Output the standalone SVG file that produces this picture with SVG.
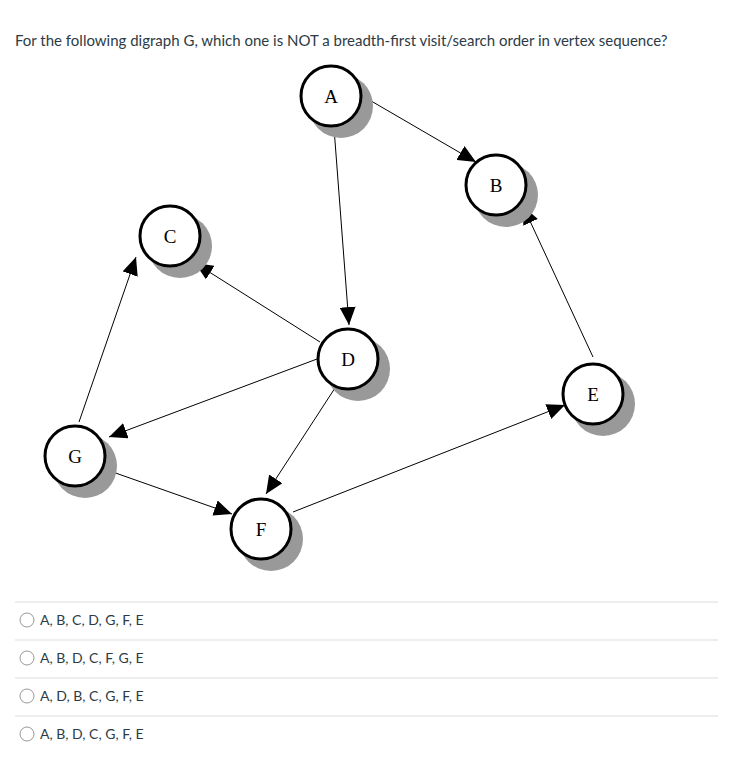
<svg xmlns="http://www.w3.org/2000/svg" width="730" height="765" viewBox="0 0 730 765">
<style>
.sh{fill:#999}
.nd{fill:#fff;stroke:#000;stroke-width:3}
.lb{font-family:"Liberation Serif",serif;font-size:19px;text-anchor:middle}
.e{stroke:#000;stroke-width:1;fill:none;marker-end:url(#ar)}
.ui{font-family:Lato,"Liberation Sans",sans-serif;font-size:14px;fill:#2d3b45}
.sep{stroke:#ddd;stroke-width:1}
.rd{fill:#fff;stroke:#999;stroke-width:1}
</style>
<defs>
<marker id="ar" markerUnits="userSpaceOnUse" markerWidth="20" markerHeight="16" refX="18" refY="8" orient="auto">
<path d="M0,0 L18,8 L0,16 Z" fill="#000"/>
</marker>
</defs>
<rect width="730" height="765" fill="#fff"/>
<text x="15" y="46" class="ui" style="font-size:15px">For the following digraph G, which one is NOT a breadth-first visit/search  order in vertex sequence?</text>
<g id="connectors">
<line class="e" x1="366" y1="98" x2="476" y2="162"/>
<line class="e" x1="334" y1="128" x2="349" y2="325"/>
<line class="e" x1="79" y1="422" x2="136" y2="257"/>
<line class="e" x1="320" y1="342" x2="195" y2="263"/>
<line class="e" x1="317" y1="359" x2="109" y2="437"/>
<line class="e" x1="335" y1="388" x2="266" y2="494"/>
<line class="e" x1="107" y1="470" x2="232" y2="514"/>
<line class="e" x1="293" y1="512" x2="565" y2="405"/>
<line class="e" x1="593" y1="357" x2="523" y2="206"/>
</g>
<g id="A"><circle class="sh" cx="341" cy="106" r="32"/><circle class="nd" cx="331" cy="96" r="30"/><text class="lb" x="331" y="103">A</text></g>
<g id="B"><circle class="sh" cx="506" cy="195" r="32"/><circle class="nd" cx="496" cy="185" r="30"/><text class="lb" x="496" y="192">B</text></g>
<g id="C"><circle class="sh" cx="180" cy="246" r="32"/><circle class="nd" cx="170" cy="236" r="30"/><text class="lb" x="170" y="243">C</text></g>
<g id="D"><circle class="sh" cx="358" cy="369" r="32"/><circle class="nd" cx="348" cy="359" r="30"/><text class="lb" x="348" y="366">D</text></g>
<g id="E"><circle class="sh" cx="603" cy="404" r="32"/><circle class="nd" cx="593" cy="394" r="30"/><text class="lb" x="593" y="401">E</text></g>
<g id="G"><circle class="sh" cx="85" cy="466" r="32"/><circle class="nd" cx="75" cy="456" r="30"/><text class="lb" x="75" y="463">G</text></g>
<g id="F"><circle class="sh" cx="271" cy="539" r="32"/><circle class="nd" cx="261" cy="529" r="30"/><text class="lb" x="261" y="536">F</text></g>
<g id="options">
<line class="sep" x1="15" y1="602" x2="718" y2="602"/>
<line class="sep" x1="15" y1="640" x2="718" y2="640"/>
<line class="sep" x1="15" y1="678" x2="718" y2="678"/>
<line class="sep" x1="15" y1="716" x2="718" y2="716"/>
<circle class="rd" cx="27" cy="620" r="7"/><text class="ui" x="40" y="625">A, B, C, D, G, F, E</text>
<circle class="rd" cx="27" cy="658" r="7"/><text class="ui" x="40" y="663">A, B, D, C, F, G, E</text>
<circle class="rd" cx="27" cy="696" r="7"/><text class="ui" x="40" y="701">A, D, B, C, G, F, E</text>
<circle class="rd" cx="27" cy="734" r="7"/><text class="ui" x="40" y="739">A, B, D, C, G, F, E</text>
</g>
</svg>
